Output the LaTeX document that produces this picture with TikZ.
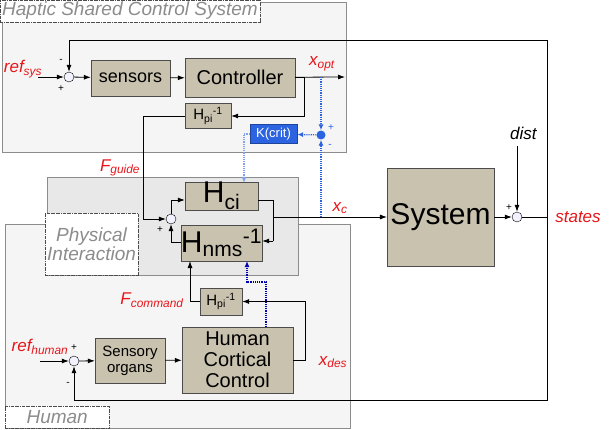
\documentclass[tikz,border=0pt]{standalone}
\usepackage{fontspec}
\setmainfont{Liberation Sans}
\usetikzlibrary{arrows.meta}
\definecolor{blk}{HTML}{C8C2AE}
\definecolor{red1}{HTML}{E8161B}
\definecolor{blu}{HTML}{2B63E0}
\newcommand{\fs}[1]{\fontsize{#1}{#1}\selectfont}
\newcommand{\sub}[1]{\textsubscript{#1}}
\newcommand{\sps}[1]{\textsuperscript{#1}}
\begin{document}
\begin{tikzpicture}[x=1pt,y=-1pt,
 blk/.style={draw=black!70,fill=blk},
 sum/.style={circle,draw,fill=blue!5,inner sep=0,minimum size=10pt},
 lab/.style={text=red1,font=\itshape\fs{17}},
 ar/.style={-{Latex[length=7pt,width=5pt]},thick},
 ln/.style={thick},
 bd/.style={blu,densely dotted,very thick,-{Latex[length=6pt,width=5pt]}},
 grp/.style={draw=black!45,fill=black!4},
 ttl/.style={draw=black!70,densely dashdotted,fill=white,text=black!45,font=\itshape\fs{19},inner sep=2pt,anchor=north west}]
\useasboundingbox (0,0) rectangle (609,430);
% groups
\draw[grp] (2,2) rectangle (346,152);
\node[ttl,minimum width=252pt,minimum height=21pt,align=left] (t1) at (0,0) {Haptic Shared Control System};
\draw[grp] (5,224) rectangle (350,428);
\draw[grp,fill=black!9] (47,177) rectangle (298,275);
\node[ttl,minimum width=92pt,minimum height=62pt,align=center] (pi) at (45,213) {Physical\\Interaction};
\node[ttl,minimum width=104pt,minimum height=22pt] (t2) at (5,406) {Human};
% blocks
\node[sum] (s1) at (69,77) {};
\node[blk,minimum width=79pt,minimum height=36pt,font=\fs{18}] (sen) at (130.5,78) {sensors};
\node[blk,minimum width=110pt,minimum height=39pt,font=\fs{20}] (ctl) at (240,77.5) {Controller};
\node[blk,minimum width=46pt,minimum height=25pt,font=\fs{15}] (hp1) at (208,116) {H\sub{pi}\sps{-1}};
\node[circle,fill=blu,inner sep=0,minimum size=9pt] (bd) at (321,135) {};
\node[fill=blu,draw=blu!70!black,text=white,minimum width=47pt,minimum height=19pt,font=\fs{13}] (kc) at (273.5,134) {K(crit)};
\node[sum] (s2) at (171,219) {};
\node[blk,minimum width=73pt,minimum height=26pt,font=\fs{30},inner sep=0] (hci) at (221.5,196) {H\sub{ci}};
\node[blk,minimum width=73pt,minimum height=36pt,font=\fs{30},inner sep=0] (hnm) at (221.5,243) {H\sub{nms}\sps{-1}};
\node[blk,minimum width=95pt,minimum height=98pt,font=\fs{30}] (sys) at (440.5,217) {System};
\node[sum] (s3) at (517,217) {};
\node[blk,minimum width=42pt,minimum height=27pt,font=\fs{15}] (hp2) at (221,301.5) {H\sub{pi}\sps{-1}};
\node[blk,minimum width=111pt,minimum height=66pt,align=center,font=\fs{20},inner sep=0] (hcc) at (237.5,360) {Human\\[1pt]Cortical\\[1pt]Control};
\node[blk,minimum width=70pt,minimum height=45pt,align=center,inner sep=0,font=\fs{15}] (so) at (130,360.5) {Sensory\\[1pt]organs};
\node[sum] (s4) at (74,361) {};
% labels
\node[lab] (rs) at (23,69) {ref\sub{sys}};
\node[lab] (xo) at (322,64) {x\sub{opt}};
\node[lab] (fg) at (120,168) {F\sub{guide}};
\node[lab] (xc) at (340,208) {x\sub{c}};
\node[lab] (st) at (578,217) {states};
\node (di) at (521,133) {\itshape\fs{17} dist};
\node[lab] (fc) at (152,300) {F\sub{command}};
\node[lab] (rh) at (40,347) {ref\sub{human}};
\node[lab] (xd) at (333,362) {x\sub{des}};
\node (m1) at (61,61) {-}; \node (p1) at (61,89) {+};
\node[blu] (p5) at (331,128) {+}; \node[blu] (m5) at (330,146) {-};
\node (p2) at (160,230) {+}; \node (p3) at (509,208) {+};
\node (p4) at (74,348) {+}; \node (m4) at (68,384) {-};
% connectors
\coordinate (in1) at (38,77);
\draw[ar] (in1) -- (s1);
\draw[ar] (s1) -- (sen);
\draw[ar] (sen) -- (ctl);
\coordinate (xoe) at (345,77);
\draw[ar] (ctl) -- (xoe);
\draw[ar] (ctl.east) -| (304,116) -- (hp1);
\draw[ar] (hp1.west) -| (143,219) -- (s2);
\draw[ar] (s2.north) |- (hci.west|-0,200) ;
\draw[ln] (hci.east|-0,200) -| (273,241);
\draw[ar] (273,241) -- (hnm.east|-0,241);
\draw[ar] (hnm.west|-0,242) -| (s2.south);
\draw[ar] (273,217) -- (sys);
\draw[ar] (sys) -- (s3);
\coordinate (dt) at (517,146);
\draw[ar] (dt) -- (s3);
\draw[ln] (s3) -- (547,217);
\draw[ar] (547,217) |- (69,40) -- (s1);
\draw[ar] (547,217) |- (74,400) -- (s4);
\coordinate (in4) at (40,361);
\draw[ar] (in4) -- (s4);
\draw[ar] (s4) -- (so);
\draw[ar] (so) -- (hcc);
\draw[ar] (hcc.east) -| (305,301.5) -- (hp2);
\draw[ar] (hp2.west) -| (190,261);
% blue
\draw[bd] (321,77) -- (bd);
\draw[bd] (321,217) -- (bd);
\draw[bd] (bd) -- (kc);
\draw[bd,blu!60] (kc.west) -| (244,183);
\draw[bd,blue!70!black] (266,327) |- (247,282) -- (247,261);
\end{tikzpicture}
\end{document}
